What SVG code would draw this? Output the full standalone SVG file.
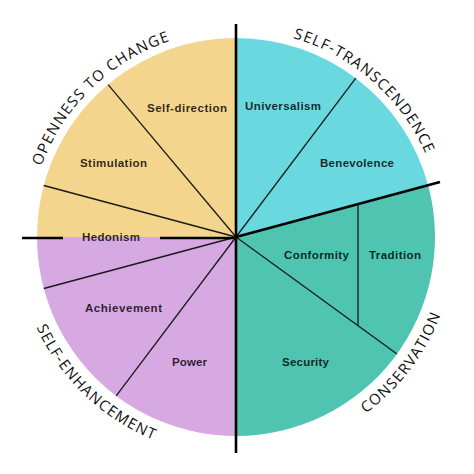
<svg xmlns="http://www.w3.org/2000/svg" width="474" height="474" viewBox="0 0 474 474">
<style>
.lbl{font-family:"Liberation Sans",Arial,sans-serif;font-weight:bold;font-size:11.5px;fill:#000;fill-opacity:0.82;text-anchor:middle}
.arc{font-family:"Open Sans","Liberation Sans",sans-serif;font-weight:400;font-size:15px;fill:#111;text-anchor:middle;letter-spacing:1.2px}
.thin{stroke:#1a1a1a;stroke-width:1.3;fill:none}
.thick{stroke:#000;stroke-width:2.6;fill:none}
</style>
<defs>
<path id="topArc" d="M29,237 A207,207 0 0 1 443,237"/>
<path id="botArc" d="M17,237 A219,219 0 0 0 455,237"/>
</defs>
<rect width="474" height="474" fill="#fff"/>
<g id="openness">
<path d="M236,237 L236,38 A199,199 0 0 0 37,237 Z" fill="#F3D58E"/>
</g>
<g id="self-enhancement">
<path d="M236,237 L37,237 A199,199 0 0 0 236,436 Z" fill="#D6A9E3"/>
</g>
<g id="conservation">
<path d="M236,237 L236,436 A199,199 0 0 0 428.2,185.5 Z" fill="#4EC4B1"/>
</g>
<g id="self-transcendence">
<path d="M236,237 L428.2,185.5 A199,199 0 0 0 236,38 Z" fill="#69D9DF"/>
</g>
<g id="connectors">
<line class="thin" x1="236" y1="237" x2="108.1" y2="84.6"/>
<line class="thin" x1="236" y1="237" x2="43.8" y2="185.5"/>
<line class="thin" x1="236" y1="237" x2="355.8" y2="78.1"/>
<line class="thin" x1="236" y1="237" x2="43.8" y2="288.5"/>
<line class="thin" x1="236" y1="237" x2="116.2" y2="395.9"/>
<line class="thin" x1="236" y1="237" x2="397" y2="354"/>
<line class="thin" x1="358" y1="204.3" x2="358" y2="325.6"/>
<line class="thick" x1="236" y1="24" x2="236" y2="453"/>
<line class="thick" x1="236" y1="237" x2="440" y2="182"/>
<line class="thick" x1="22" y1="238" x2="63" y2="238"/>
<line class="thick" x1="160" y1="238" x2="236" y2="238"/>
</g>
<g id="labels">
<text class="lbl" x="187" y="111.5" textLength="80" lengthAdjust="spacing">Self-direction</text>
<text class="lbl" x="113.5" y="167" textLength="67" lengthAdjust="spacing">Stimulation</text>
<text class="lbl" x="111" y="240.5" textLength="58" lengthAdjust="spacing">Hedonism</text>
<text class="lbl" x="283" y="110" textLength="76" lengthAdjust="spacing">Universalism</text>
<text class="lbl" x="357" y="167" textLength="74" lengthAdjust="spacing">Benevolence</text>
<text class="lbl" x="316.5" y="258.5" textLength="65" lengthAdjust="spacing">Conformity</text>
<text class="lbl" x="395" y="258.5" textLength="52" lengthAdjust="spacing">Tradition</text>
<text class="lbl" x="305.5" y="366" textLength="47" lengthAdjust="spacing">Security</text>
<text class="lbl" x="123.5" y="312" textLength="77" lengthAdjust="spacing">Achievement</text>
<text class="lbl" x="189.5" y="366" textLength="35" lengthAdjust="spacing">Power</text>
</g>
<g id="group-titles">
<text class="arc"><textPath href="#topArc" startOffset="165.3">OPENNESS TO CHANGE</textPath></text>
<text class="arc"><textPath href="#topArc" startOffset="474.2">SELF-TRANSCENDENCE</textPath></text>
<text class="arc"><textPath href="#botArc" startOffset="176.6">SELF-ENHANCEMENT</textPath></text>
<text class="arc"><textPath href="#botArc" startOffset="545.8">CONSERVATION</textPath></text>
</g>
</svg>
